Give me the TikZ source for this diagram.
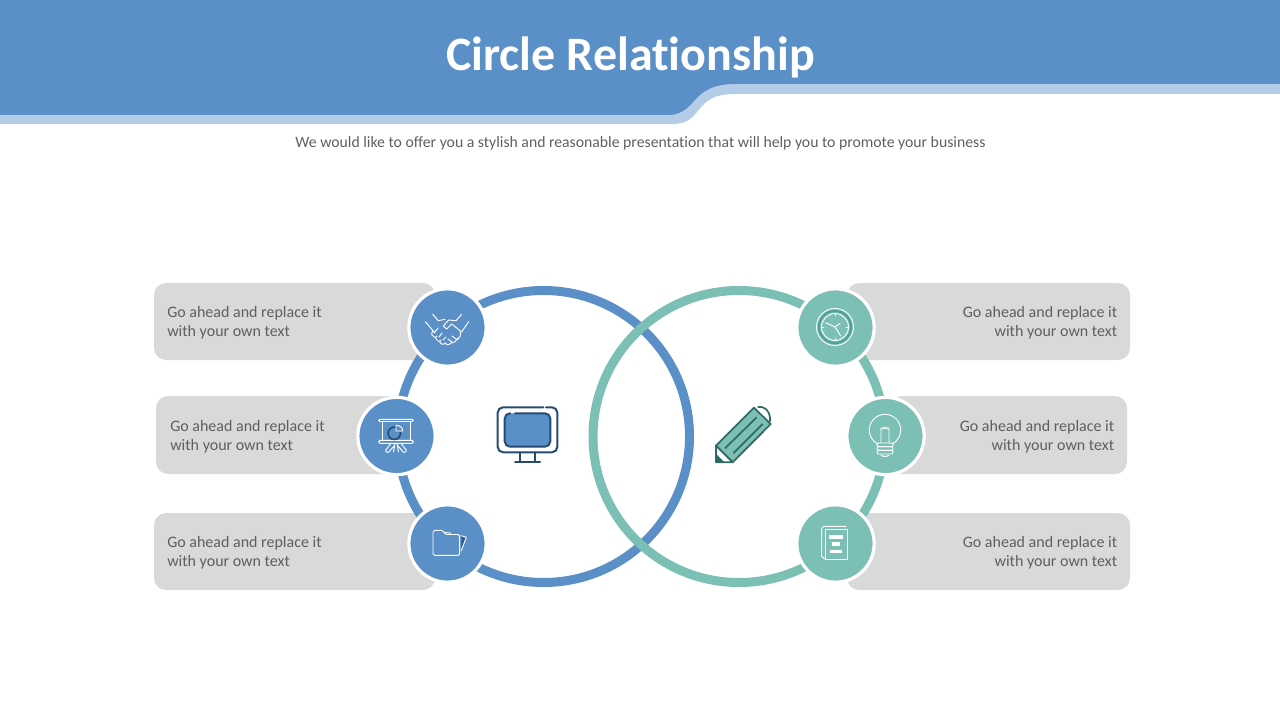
\documentclass[tikz,border=0pt]{standalone}
\usepackage{fontspec}
\setmainfont{Carlito}[Ligatures=NoCommon]
\usepackage{tikz}
\definecolor{circleBlue}{HTML}{5B8FC7}
\definecolor{circleGreen}{HTML}{7CBFB5}
\definecolor{bandLight}{HTML}{B4CCE6}
\definecolor{panelGrey}{HTML}{D9D9D9}
\definecolor{bodyText}{HTML}{5F5F5F}
\definecolor{darkBlue}{HTML}{254A73}
\definecolor{flapBlue}{HTML}{2C5C94}
\definecolor{darkGreen}{HTML}{2F6B64}
\definecolor{faceGreen}{HTML}{4FA296}
\tikzset{
  panel/.style={fill=panelGrey,rounded corners=9pt},
  badge/.style={circle,draw=white,line width=2.4pt,minimum size=58pt,inner sep=0pt},
  note/.style={text=bodyText,font=\fontsize{12pt}{14.2pt}\selectfont,inner sep=0pt},
  glyph/.style={draw=white,line width=.7pt,line cap=round,line join=round},
}
\begin{document}
\begin{tikzpicture}[x=.75pt,y=-.75pt]
\useasboundingbox (0,0) rectangle (1280,720);
% header
\fill[bandLight] (0,0) -- (1280,0) -- (1280,94) -- (735,94)
  .. controls (718,94) and (710,98) .. (703,105)
  .. controls (693,116) and (690,124) .. (672,124) -- (0,124) -- cycle;
\fill[circleBlue] (0,0) -- (1280,0) -- (1280,84) -- (735,84)
  .. controls (712,84) and (702,92) .. (695,100)
  .. controls (686,110) and (680,115) .. (668,115) -- (0,115) -- cycle;
\node[text=white,font=\fontsize{36pt}{40pt}\bfseries\selectfont] (title) at (630.5,57.5) {Circle Relationship};
\node[text=bodyText,font=\fontsize{11.8pt}{14pt}\selectfont] (subtitle) at (640.5,143.5)
  {We would like to offer you a stylish and reasonable presentation that will help you to promote your business};
% panels
\fill[panel] (154,283) rectangle (435,360);
\fill[panel] (156,396) rectangle (400,474);
\fill[panel] (154,513) rectangle (435,590);
\fill[panel] (847,283) rectangle (1130,360);
\fill[panel] (890,396) rectangle (1127,474);
\fill[panel] (847,513) rectangle (1130,590);
\foreach \n/\x/\y in {a/167/323,b/170/437,c/167/553} {
  \node[note,anchor=west,align=left] (note\n) at (\x,\y) {Go ahead and replace it\\with your own text};
}
\foreach \n/\x/\y in {d/1117.5/323,e/1114.5/437,f/1117.5/553} {
  \node[note,anchor=east,align=right] (note\n) at (\x,\y) {Go ahead and replace it\\with your own text};
}
% rings
\draw[circleBlue,line width=6.75pt] (543.5,436.5) circle (146);
\draw[circleGreen,line width=6.75pt] (739,436.5) circle (146);
% badges
\foreach \n/\x/\y in {a/447.5/327.5,b/396.5/436,c/447.5/543.5} {
  \node[badge,fill=circleBlue] (badge\n) at (\x,\y) {};
}
\foreach \n/\x/\y in {d/835.5/327.5,e/885.5/436,f/835.5/543.5} {
  \node[badge,fill=circleGreen] (badge\n) at (\x,\y) {};
}
% handshake
\begin{scope}[shift={(447,327)},glyph]
  \draw (-21.7,-5.3) -- (-12,6);
  \draw (21.7,-5.3) -- (14.7,4.7);
  \draw (-14.3,-12.7) -- (-8.7,-6.3) -- (-2,-7.7);
  \draw (14.7,-12.7) -- (9,-6.3) -- (1.7,-7) -- (-3.7,-1) -- (-.3,2) -- (4.7,-3) -- (14.7,5);
  \draw[rounded corners=1pt] (-14,4) -- (-16,7) -- (-12,11) -- (-9,8) -- (-12,11) -- (-8,15) -- (-5,12) -- (-8,15) -- (-4,18) -- (-1,15)
    -- (-2,17) -- (2,18) -- (5,15) -- (7,16) -- (10,12) -- (11,12) -- (14,8) -- (13,5);
  \draw (-9,1) -- (-13,6) (-5,6) -- (-8,10) (-1,10) -- (-4,13);
  \draw (5,9) -- (9,12) (1,12) -- (5,15);
\end{scope}
% presentation board
\begin{scope}[shift={(396,436)},glyph]
  \draw[rounded corners=1pt] (-17.3,-16.7) rectangle (17.3,-14.5);
  \draw (-14,-14.5) -- (-14,4.3) (14,-14.5) -- (14,4.3);
  \draw[rounded corners=1pt] (-17.3,4.3) rectangle (17.3,7.3);
  \draw[rounded corners=1pt] (-5,7.3) -- (-11,15) -- (-8,17) -- (-2,10) (5,7.3) -- (11,15) -- (8,17) -- (2,10) (-1,7.3) -- (-2.5,16) (1,7.3) -- (2.5,16);
  \draw[darkBlue,line width=1.2pt] (-1.7,-2.7) circle (6.2);
  \fill[circleBlue] (-.5,-4) -- (-.5,-11) -- (7.5,-11) -- (7.5,-4) -- cycle;
  \draw[fill=circleBlue] (0,-10.7) -- (0,-5) -- (6.7,-5) .. controls (6.7,-8.5) and (4,-10.7) .. (0,-10.7) -- cycle;
\end{scope}
% folder
\begin{scope}[shift={(447,543)},glyph]
  \draw[rounded corners=1.2pt] (-14,12.3) -- (-14,-12.7) -- (-4,-12.7) -- (-2,-8.5) -- (12.7,-8.5) -- (12.7,12.3) -- cycle;
  \draw (-2,-10.5) -- (3,-10) -- (4,-8.5);
  \fill[flapBlue] (14.3,-7.3) -- (19.3,-5.7) -- (14.3,7.7) -- cycle;
  \draw (14.3,-7.3) -- (19.3,-5.7) -- (14.3,7.7);
\end{scope}
% clock
\begin{scope}[shift={(835,327)},glyph]
  \draw (0,0) circle (18.5);
  \draw[faceGreen,line width=1.6pt] (0,0) circle (16);
  \draw (0,0) circle (13.5);
  \draw (0,0) -- (-9.3,-4.3) (0,0) -- (5.7,9) (0,0) -- (5,-3.7);
  \foreach \a in {0,90,180,270} { \draw (\a:11) -- (\a:12.5); }
\end{scope}
% bulb
\begin{scope}[shift={(885,436)},glyph]
  \draw (-7.85,7.6) arc (120:420:15.7);
  \draw (-4,7) -- (-4,-8) -- (-2.7,-7) -- (-1.3,-9) -- (0,-7) -- (1.3,-9) -- (2.7,-7) -- (4,-8) -- (4,7);
  \foreach \t in {7,10.7,14.3} { \draw[rounded corners=1pt] (-8,\t) rectangle (8,\t+3.7); }
  \draw (-4,19) .. controls (-2,21) and (2,21) .. (4,19);
\end{scope}
% book
\begin{scope}[shift={(835,543)},glyph]
  \draw (-10,-14) rectangle (12,16);
  \draw (11,-16.7) -- (-11,-16.7) -- (-13.3,-14.5) -- (-13.3,13.5) -- (-10,16);
  \fill[white] (-6,-8.3) rectangle (7.7,-4.3);
  \fill[white] (-3.3,-.7) rectangle (5,2.7);
  \fill[white] (-5,6.7) rectangle (7.3,10.3);
\end{scope}
% monitor
\begin{scope}[shift={(527.5,430)},draw=darkBlue,line width=1.5pt,line cap=round,line join=round]
  \fill[circleBlue,rounded corners=3pt] (-22.8,-16.7) rectangle (22.8,16.7);
  \draw[rounded corners=4pt] (18.5,-22.7) -- (29.8,-22.7) -- (29.8,22.3) -- (-29.8,22.3) -- (-29.8,-22.7) -- (15.8,-22.7);
  \draw[rounded corners=4pt] (-12.5,-16.7) -- (22.8,-16.7) -- (22.8,16.7) -- (-22.8,16.7) -- (-22.8,-16.7) -- (-17.5,-16.7);
  \draw (-7.5,22.3) -- (-7.5,32) (7.5,22.3) -- (7.5,32);
  \draw (-12.5,32) -- (12.5,32);
\end{scope}
% pencil
\begin{scope}[draw=darkGreen,line width=1.3pt,line join=round]
  \draw[fill=circleGreen] (716,445.7) -- (754,407.7) -- (770.7,424) -- (732.7,462.3) -- cycle;
  \draw[fill=white] (716,445.7) -- (732.7,462.3) -- (716,462.3) -- cycle;
  \fill[darkGreen] (716,454) -- (724.3,462.3) -- (716,462.3) -- cycle;
  \draw (725,448.3) -- (756.7,417.3) (733.3,453.3) -- (762.7,424);
  \draw (757.7,407) .. controls (762,406) and (771,409) .. (770,421.7);
\end{scope}
\end{tikzpicture}
\end{document}
